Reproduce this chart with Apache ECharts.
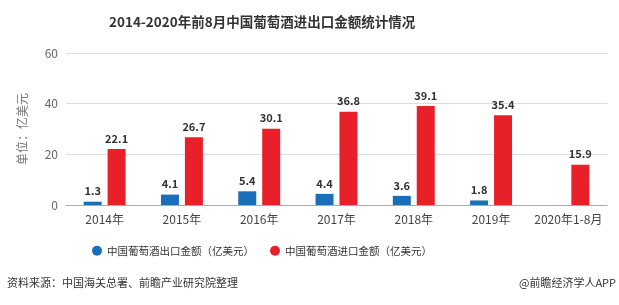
<!DOCTYPE html>
<html>
<head>
<meta charset="utf-8">
<script src="https://cdn.jsdelivr.net/npm/echarts@6/dist/echarts.min.js"></script>
<style>
  html, body { margin: 0; padding: 0; background: #fff; }
  #chart { width: 619px; height: 305px; }
</style>
</head>
<body>
<div id="chart"></div>
<script>
var years = ['2014年', '2015年', '2016年', '2017年', '2018年', '2019年', '2020年1-8月'];
var exportVals = [1.3, 4.1, 5.4, 4.4, 3.6, 1.8, null];
var importVals = [22.1, 26.7, 30.1, 36.8, 39.1, 35.4, 15.9];
var yTicks = [0, 20, 40, 60];

var font = '"Noto Sans CJK SC", "Microsoft YaHei", sans-serif';

var myChart = echarts.init(document.getElementById('chart'));

var option = {
    textStyle: { fontFamily: font },
    title: {
        text: '2014-2020年前8月中国葡萄酒进出口金额统计情况',
        left: 104,
        top: 10,
        textStyle: { fontSize: 13.5, fontWeight: 'bold', color: '#333', fontFamily: font }
    },
    grid: { left: 66, right: 12, top: 53, bottom: 100 },
    legend: {
        bottom: 44,
        left: 87,
        itemGap: 16,
        icon: 'circle',
        itemWidth: 10,
        itemHeight: 10,
        textStyle: { fontSize: 10.5, color: '#333' }
    },
    xAxis: {
        type: 'category',
        data: years,
        axisTick: { alignWithLabel: true, lineStyle: { color: '#888' } },
        axisLine: { lineStyle: { color: '#aaa' } },
        axisLabel: { color: '#444', fontSize: 12, margin: 8, interval: 0 }
    },
    yAxis: {
        type: 'value',
        min: yTicks[0],
        max: yTicks[yTicks.length - 1],
        interval: 20,
        name: '单位：亿美元',
        nameLocation: 'middle',
        nameGap: 38,
        nameTextStyle: { color: '#777', fontSize: 12 },
        axisLabel: { color: '#666', fontSize: 12 },
        splitLine: { lineStyle: { color: '#ddd' } }
    },
    series: [
        {
            name: '中国葡萄酒出口金额（亿美元）',
            type: 'bar',
            data: exportVals,
            barWidth: 18,
            barGap: '33%',
            itemStyle: { color: '#1a6fb8' },
            label: { show: true, position: 'top', fontWeight: 'bold', fontSize: 11, color: '#333' }
        },
        {
            name: '中国葡萄酒进口金额（亿美元）',
            type: 'bar',
            data: importVals,
            barWidth: 18,
            itemStyle: { color: '#e8202a' },
            label: { show: true, position: 'top', fontWeight: 'bold', fontSize: 11, color: '#333' }
        }
    ],
    graphic: [
        {
            type: 'text', left: 7, top: 277,
            style: { text: '资料来源：中国海关总署、前瞻产业研究院整理', font: '11px ' + font, fill: '#333' }
        },
        {
            type: 'text', right: 3, top: 277,
            style: { text: '@前瞻经济学人APP', font: '11px ' + font, fill: '#333' }
        }
    ]
};

myChart.setOption(option);
</script>
</body>
</html>
